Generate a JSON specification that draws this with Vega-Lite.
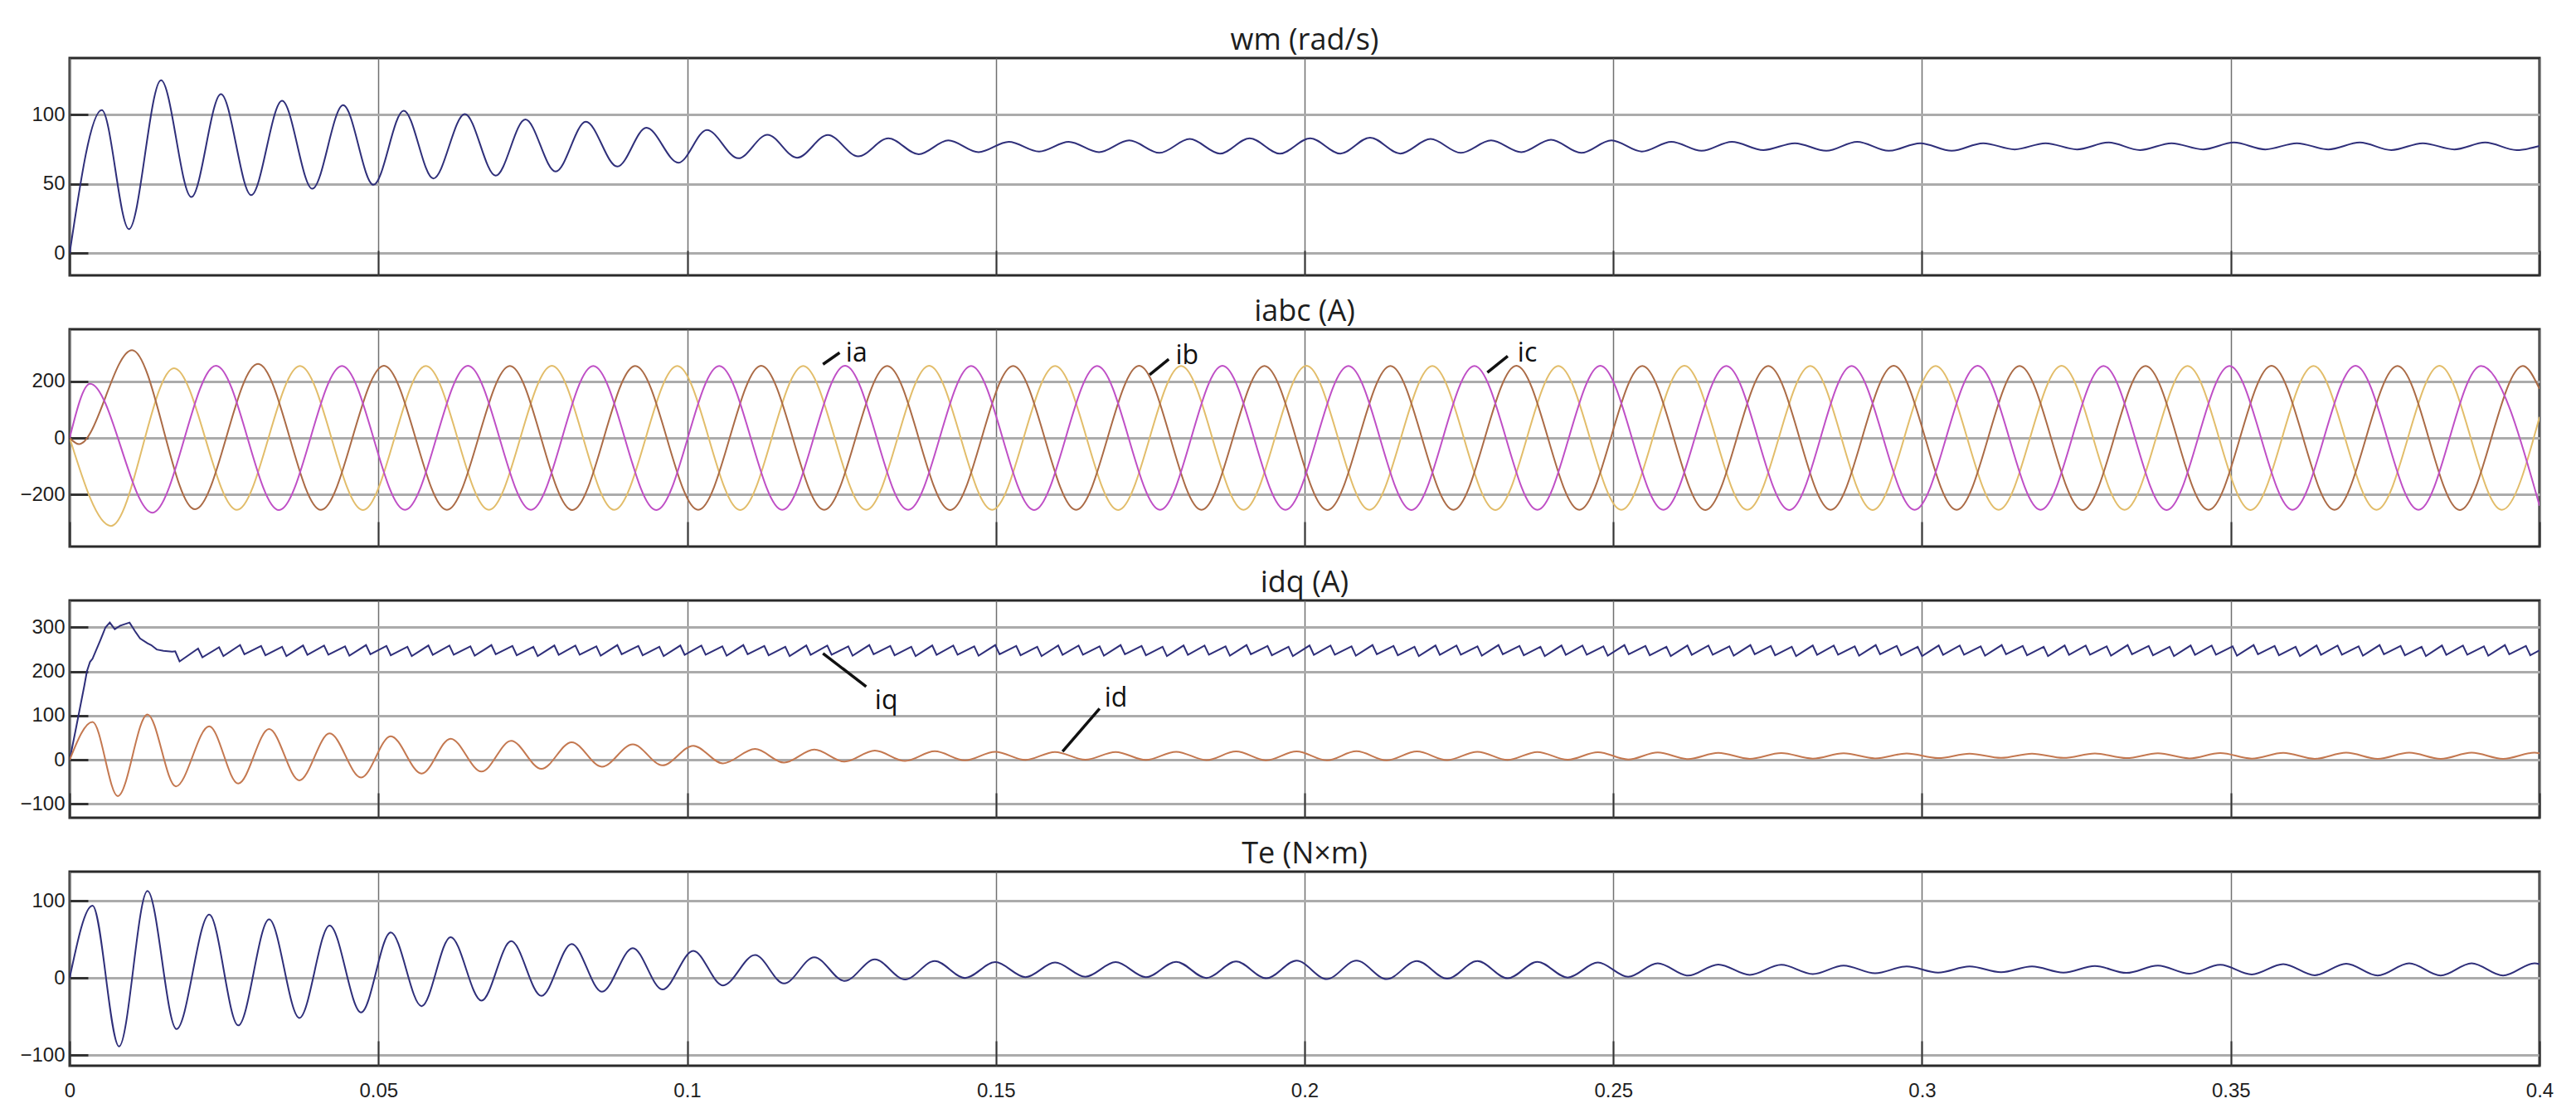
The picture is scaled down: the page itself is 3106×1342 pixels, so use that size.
{
  "$schema": "https://vega.github.io/schema/vega-lite/v6.json",
  "background": "white",
  "padding": {"left": 22, "top": 29, "right": 26, "bottom": 8},
  "spacing": 21,
  "config": {
    "view": {"stroke": "#2a2a2a", "strokeWidth": 3},
    "title": {"font": "Open Sans", "fontSize": 36, "fontWeight": "normal", "color": "#1e1e1e", "offset": 2, "anchor": "middle"},
    "axis": {"domain": false, "labelFont": "Liberation Sans", "labelFontSize": 24, "labelColor": "#1e1e1e", "tickColor": "#333333"},
    "axisX": {"gridColor": "#707070", "gridWidth": 1.5, "tickSize": -30, "tickWidth": 2, "labelPadding": 48, "labelFlush": false},
    "axisY": {"gridColor": "#ababab", "gridWidth": 3, "tickSize": -22, "tickWidth": 3, "labelPadding": 28}
  },
  "datasets": {
    "wm": [
      {"t":0,"v":0},{"t":0.0052,"v":103.4},{"t":0.0096,"v":17.4},{"t":0.0148,"v":125},{"t":0.0197,"v":40.6},{"t":0.0245,"v":115},{"t":0.0294,"v":42},{"t":0.0344,"v":110.2},{"t":0.0393,"v":46.6},{"t":0.0443,"v":107},{"t":0.0492,"v":49.4},{"t":0.0541,"v":103},{"t":0.0589,"v":54},{"t":0.064,"v":100.6},{"t":0.069,"v":56},{"t":0.0738,"v":96.6},{"t":0.0787,"v":59},{"t":0.0836,"v":95},{"t":0.0887,"v":62.6},{"t":0.0934,"v":90.6},{"t":0.0986,"v":65.4},{"t":0.1032,"v":89},{"t":0.1083,"v":68.6},{"t":0.113,"v":85.6},{"t":0.1178,"v":69},{"t":0.1228,"v":85.4},{"t":0.1277,"v":70},
      {"t":0.1326,"v":83},{"t":0.1375,"v":71.5},{"t":0.1423,"v":81.5},{"t":0.1472,"v":73},{"t":0.1521,"v":80.5},{"t":0.157,"v":73.5},{"t":0.1618,"v":80.5},{"t":0.1667,"v":73},{"t":0.1716,"v":81.5},{"t":0.1765,"v":72.5},{"t":0.1814,"v":82.5},{"t":0.1863,"v":72},{"t":0.1911,"v":83},{"t":0.196,"v":72},{"t":0.2009,"v":83},{"t":0.2058,"v":72},{"t":0.2106,"v":83.5},{"t":0.2155,"v":72},{"t":0.2204,"v":82.5},{"t":0.2253,"v":72.5},{"t":0.2302,"v":81.5},{"t":0.2351,"v":73},{"t":0.2399,"v":82},{"t":0.2448,"v":72.5},{"t":0.2497,"v":81.5},{"t":0.2546,"v":73.5},{"t":0.2594,"v":80.5},{"t":0.2643,"v":74},{"t":0.2692,"v":80.5},{"t":0.2743,"v":74.5},{"t":0.2794,"v":79.5},{"t":0.2845,"v":74},{"t":0.2895,"v":80.5},{"t":0.2946,"v":74},{"t":0.2997,"v":79.5},{"t":0.3048,"v":74},{"t":0.3099,"v":79.5},{"t":0.315,"v":75},{"t":0.32,"v":79.5},{"t":0.3251,"v":75},{"t":0.3302,"v":80},{"t":0.3353,"v":74.5},{"t":0.3404,"v":79.5},{"t":0.3455,"v":75},{"t":0.3505,"v":80},{"t":0.3556,"v":75},{"t":0.3607,"v":79.5},{"t":0.3658,"v":75},{"t":0.3709,"v":80},{"t":0.376,"v":74.5},{"t":0.3811,"v":79.5},{"t":0.3862,"v":75},{"t":0.3912,"v":80},{"t":0.3963,"v":74.5},{"t":0.4,"v":77.5}
    ],
    "iabc": [
      {"s":"ia","t":0,"v":0},{"s":"ia","t":0.0067,"v":-312},{"s":"ia","t":0.0169,"v":247},{"s":"ia","t":0.0271,"v":-255},{"s":"ia","t":0.0373,"v":255},{"s":"ia","t":0.0475,"v":-256},{"s":"ia","t":0.0577,"v":255},{"s":"ia","t":0.0679,"v":-255},{"s":"ia","t":0.0781,"v":256},{"s":"ia","t":0.0882,"v":-255},{"s":"ia","t":0.0984,"v":255},{"s":"ia","t":0.1086,"v":-256},{"s":"ia","t":0.1188,"v":255},{"s":"ia","t":0.129,"v":-255},{"s":"ia","t":0.1392,"v":256},{"s":"ia","t":0.1494,"v":-255},{"s":"ia","t":0.1596,"v":255},{"s":"ia","t":0.1698,"v":-256},{"s":"ia","t":0.18,"v":255},{"s":"ia","t":0.1901,"v":-255},{"s":"ia","t":0.2003,"v":256},{"s":"ia","t":0.2105,"v":-255},{"s":"ia","t":0.2207,"v":255},{"s":"ia","t":0.2309,"v":-256},{"s":"ia","t":0.2411,"v":255},{"s":"ia","t":0.2513,"v":-255},{"s":"ia","t":0.2615,"v":256},{"s":"ia","t":0.2717,"v":-255},{"s":"ia","t":0.2819,"v":255},{"s":"ia","t":0.292,"v":-256},{"s":"ia","t":0.3022,"v":255},{"s":"ia","t":0.3124,"v":-255},{"s":"ia","t":0.3226,"v":256},{"s":"ia","t":0.3328,"v":-255},{"s":"ia","t":0.343,"v":255},{"s":"ia","t":0.3532,"v":-256},{"s":"ia","t":0.3634,"v":255},{"s":"ia","t":0.3736,"v":-255},{"s":"ia","t":0.3838,"v":256},{"s":"ia","t":0.3939,"v":-255},{"s":"ia","t":0.4,"v":74},
      {"s":"ib","t":0,"v":0},{"s":"ib","t":0.0015,"v":-22},{"s":"ib","t":0.0101,"v":311},{"s":"ib","t":0.0203,"v":-253},{"s":"ib","t":0.0305,"v":262},{"s":"ib","t":0.0407,"v":-255},{"s":"ib","t":0.0509,"v":256},{"s":"ib","t":0.0611,"v":-255},{"s":"ib","t":0.0713,"v":255},{"s":"ib","t":0.0814,"v":-256},{"s":"ib","t":0.0916,"v":255},{"s":"ib","t":0.1018,"v":-255},{"s":"ib","t":0.112,"v":256},{"s":"ib","t":0.1222,"v":-255},{"s":"ib","t":0.1324,"v":255},{"s":"ib","t":0.1426,"v":-256},{"s":"ib","t":0.1528,"v":255},{"s":"ib","t":0.163,"v":-255},{"s":"ib","t":0.1732,"v":256},{"s":"ib","t":0.1833,"v":-255},{"s":"ib","t":0.1935,"v":255},{"s":"ib","t":0.2037,"v":-256},{"s":"ib","t":0.2139,"v":255},{"s":"ib","t":0.2241,"v":-255},{"s":"ib","t":0.2343,"v":256},{"s":"ib","t":0.2445,"v":-255},{"s":"ib","t":0.2547,"v":255},{"s":"ib","t":0.2649,"v":-256},{"s":"ib","t":0.2751,"v":255},{"s":"ib","t":0.2852,"v":-255},{"s":"ib","t":0.2954,"v":256},{"s":"ib","t":0.3056,"v":-255},{"s":"ib","t":0.3158,"v":255},{"s":"ib","t":0.326,"v":-256},{"s":"ib","t":0.3362,"v":255},{"s":"ib","t":0.3464,"v":-255},{"s":"ib","t":0.3566,"v":256},{"s":"ib","t":0.3668,"v":-255},{"s":"ib","t":0.377,"v":255},{"s":"ib","t":0.3871,"v":-256},{"s":"ib","t":0.3973,"v":255},{"s":"ib","t":0.4,"v":174},
      {"s":"ic","t":0,"v":0},{"s":"ic","t":0.0033,"v":192},{"s":"ic","t":0.0134,"v":-265},{"s":"ic","t":0.0237,"v":256},{"s":"ic","t":0.0339,"v":-256},{"s":"ic","t":0.0441,"v":255},{"s":"ic","t":0.0543,"v":-255},{"s":"ic","t":0.0645,"v":256},{"s":"ic","t":0.0747,"v":-255},{"s":"ic","t":0.0848,"v":255},{"s":"ic","t":0.095,"v":-256},{"s":"ic","t":0.1052,"v":255},{"s":"ic","t":0.1154,"v":-255},{"s":"ic","t":0.1256,"v":256},{"s":"ic","t":0.1358,"v":-255},{"s":"ic","t":0.146,"v":255},{"s":"ic","t":0.1562,"v":-256},{"s":"ic","t":0.1664,"v":255},{"s":"ic","t":0.1766,"v":-255},{"s":"ic","t":0.1867,"v":256},{"s":"ic","t":0.1969,"v":-255},{"s":"ic","t":0.2071,"v":255},{"s":"ic","t":0.2173,"v":-256},{"s":"ic","t":0.2275,"v":255},{"s":"ic","t":0.2377,"v":-255},{"s":"ic","t":0.2479,"v":256},{"s":"ic","t":0.2581,"v":-255},{"s":"ic","t":0.2683,"v":255},{"s":"ic","t":0.2785,"v":-256},{"s":"ic","t":0.2886,"v":255},{"s":"ic","t":0.2988,"v":-255},{"s":"ic","t":0.309,"v":256},{"s":"ic","t":0.3192,"v":-255},{"s":"ic","t":0.3294,"v":255},{"s":"ic","t":0.3396,"v":-256},{"s":"ic","t":0.3498,"v":255},{"s":"ic","t":0.36,"v":-255},{"s":"ic","t":0.3702,"v":256},{"s":"ic","t":0.3804,"v":-255},{"s":"ic","t":0.3905,"v":255},{"s":"ic","t":0.4,"v":-240}
    ],
    "iq": [
      {"t":0,"v":0},{"t":0.0011,"v":77},{"t":0.0024,"v":170},{"t":0.0028,"v":201},{"t":0.0033,"v":222},{"t":0.0037,"v":229},{"t":0.005,"v":272},{"t":0.0058,"v":300},{"t":0.0065,"v":311},{"t":0.0073,"v":296},{"t":0.0082,"v":304},{"t":0.0097,"v":311},{"t":0.0106,"v":291},{"t":0.0114,"v":275},{"t":0.0126,"v":264},{"t":0.0132,"v":260},{"t":0.0141,"v":250},{"t":0.0152,"v":247},{"t":0.0166,"v":245},{"t":0.0171,"v":246},{"t":0.0178,"v":223},
      {"t":0.0208,"v":252},{"t":0.0215,"v":232},{"t":0.0242,"v":255},{"t":0.0249,"v":235},{"t":0.0276,"v":260},{"t":0.0283,"v":239},{"t":0.031,"v":258},{"t":0.0317,"v":237},{"t":0.0344,"v":256},{"t":0.0351,"v":235},{"t":0.0378,"v":259},{"t":0.0385,"v":238},
      {"t":0.0412,"v":259},{"t":0.0419,"v":238},{"t":0.0446,"v":257},{"t":0.0453,"v":236},{"t":0.048,"v":260},{"t":0.0487,"v":239},{"t":0.0513,"v":258},{"t":0.052,"v":237},{"t":0.0547,"v":256},{"t":0.0554,"v":235},{"t":0.0581,"v":259},{"t":0.0588,"v":238},
      {"t":0.0615,"v":259},{"t":0.0622,"v":238},{"t":0.0649,"v":257},{"t":0.0656,"v":236},{"t":0.0683,"v":260},{"t":0.069,"v":239},{"t":0.0717,"v":258},{"t":0.0724,"v":237},{"t":0.0751,"v":256},{"t":0.0758,"v":235},{"t":0.0785,"v":259},{"t":0.0792,"v":238},
      {"t":0.0819,"v":259},{"t":0.0826,"v":238},{"t":0.0853,"v":257},{"t":0.086,"v":236},{"t":0.0887,"v":260},{"t":0.0894,"v":239},{"t":0.0921,"v":258},{"t":0.0928,"v":237},{"t":0.0955,"v":256},{"t":0.0962,"v":235},{"t":0.0989,"v":259},{"t":0.0996,"v":238},
      {"t":0.1023,"v":259},{"t":0.103,"v":238},{"t":0.1057,"v":257},{"t":0.1064,"v":236},{"t":0.1091,"v":260},{"t":0.1098,"v":239},{"t":0.1125,"v":258},{"t":0.1132,"v":237},{"t":0.1159,"v":256},{"t":0.1166,"v":235},{"t":0.1193,"v":259},{"t":0.12,"v":238},
      {"t":0.1227,"v":259},{"t":0.1234,"v":238},{"t":0.1261,"v":257},{"t":0.1268,"v":236},{"t":0.1295,"v":260},{"t":0.1302,"v":239},{"t":0.1329,"v":258},{"t":0.1336,"v":237},{"t":0.1363,"v":256},{"t":0.137,"v":235},{"t":0.1397,"v":259},{"t":0.1404,"v":238},
      {"t":0.1431,"v":259},{"t":0.1438,"v":238},{"t":0.1465,"v":257},{"t":0.1472,"v":236},{"t":0.1499,"v":260},{"t":0.1506,"v":239},{"t":0.1533,"v":258},{"t":0.154,"v":237},{"t":0.1567,"v":256},{"t":0.1574,"v":235},{"t":0.1601,"v":259},{"t":0.1608,"v":238},
      {"t":0.1634,"v":259},{"t":0.1641,"v":238},{"t":0.1668,"v":257},{"t":0.1675,"v":236},{"t":0.1702,"v":260},{"t":0.1709,"v":239},{"t":0.1736,"v":258},{"t":0.1743,"v":237},{"t":0.177,"v":256},{"t":0.1777,"v":235},{"t":0.1804,"v":259},{"t":0.1811,"v":238},
      {"t":0.1838,"v":259},{"t":0.1845,"v":238},{"t":0.1872,"v":257},{"t":0.1879,"v":236},{"t":0.1906,"v":260},{"t":0.1913,"v":239},{"t":0.194,"v":258},{"t":0.1947,"v":237},{"t":0.1974,"v":256},{"t":0.1981,"v":235},{"t":0.2008,"v":259},{"t":0.2015,"v":238},
      {"t":0.2042,"v":259},{"t":0.2049,"v":238},{"t":0.2076,"v":257},{"t":0.2083,"v":236},{"t":0.211,"v":260},{"t":0.2117,"v":239},{"t":0.2144,"v":258},{"t":0.2151,"v":237},{"t":0.2178,"v":256},{"t":0.2185,"v":235},{"t":0.2212,"v":259},{"t":0.2219,"v":238},
      {"t":0.2246,"v":259},{"t":0.2253,"v":238},{"t":0.228,"v":257},{"t":0.2287,"v":236},{"t":0.2314,"v":260},{"t":0.2321,"v":239},{"t":0.2348,"v":258},{"t":0.2355,"v":237},{"t":0.2382,"v":256},{"t":0.2389,"v":235},{"t":0.2416,"v":259},{"t":0.2423,"v":238},
      {"t":0.245,"v":259},{"t":0.2457,"v":238},{"t":0.2484,"v":257},{"t":0.2491,"v":236},{"t":0.2518,"v":260},{"t":0.2525,"v":239},{"t":0.2552,"v":258},{"t":0.2559,"v":237},{"t":0.2586,"v":256},{"t":0.2593,"v":235},{"t":0.262,"v":259},{"t":0.2627,"v":238},
      {"t":0.2654,"v":259},{"t":0.2661,"v":238},{"t":0.2688,"v":257},{"t":0.2695,"v":236},{"t":0.2722,"v":260},{"t":0.2729,"v":239},{"t":0.2755,"v":258},{"t":0.2762,"v":237},{"t":0.2789,"v":256},{"t":0.2796,"v":235},{"t":0.2823,"v":259},{"t":0.283,"v":238},
      {"t":0.2857,"v":259},{"t":0.2864,"v":238},{"t":0.2891,"v":257},{"t":0.2898,"v":236},{"t":0.2925,"v":260},{"t":0.2932,"v":239},{"t":0.2959,"v":258},{"t":0.2966,"v":237},{"t":0.2993,"v":256},{"t":0.3,"v":235},{"t":0.3027,"v":259},{"t":0.3034,"v":238},
      {"t":0.3061,"v":259},{"t":0.3068,"v":238},{"t":0.3095,"v":257},{"t":0.3102,"v":236},{"t":0.3129,"v":260},{"t":0.3136,"v":239},{"t":0.3163,"v":258},{"t":0.317,"v":237},{"t":0.3197,"v":256},{"t":0.3204,"v":235},{"t":0.3231,"v":259},{"t":0.3238,"v":238},
      {"t":0.3265,"v":259},{"t":0.3272,"v":238},{"t":0.3299,"v":257},{"t":0.3306,"v":236},{"t":0.3333,"v":260},{"t":0.334,"v":239},{"t":0.3367,"v":258},{"t":0.3374,"v":237},{"t":0.3401,"v":256},{"t":0.3408,"v":235},{"t":0.3435,"v":259},{"t":0.3442,"v":238},
      {"t":0.3469,"v":259},{"t":0.3476,"v":238},{"t":0.3503,"v":257},{"t":0.351,"v":236},{"t":0.3537,"v":260},{"t":0.3544,"v":239},{"t":0.3571,"v":258},{"t":0.3578,"v":237},{"t":0.3605,"v":256},{"t":0.3612,"v":235},{"t":0.3639,"v":259},{"t":0.3646,"v":238},
      {"t":0.3673,"v":259},{"t":0.368,"v":238},{"t":0.3707,"v":257},{"t":0.3714,"v":236},{"t":0.3741,"v":260},{"t":0.3748,"v":239},{"t":0.3775,"v":258},{"t":0.3782,"v":237},{"t":0.3809,"v":256},{"t":0.3816,"v":235},{"t":0.3842,"v":259},{"t":0.3849,"v":238},
      {"t":0.3876,"v":259},{"t":0.3883,"v":238},{"t":0.391,"v":257},{"t":0.3917,"v":236},{"t":0.3944,"v":260},{"t":0.3951,"v":239},{"t":0.3978,"v":258},{"t":0.3985,"v":237},{"t":0.4,"v":248}
    ],
    "id": [
      {"t":0,"v":0},{"t":0.0037,"v":85.8},{"t":0.0078,"v":-82},{"t":0.0126,"v":103},{"t":0.0172,"v":-60},{"t":0.0226,"v":76},{"t":0.0273,"v":-53.7},{"t":0.0323,"v":69.8},{"t":0.0372,"v":-46.3},{"t":0.0421,"v":59.9},{"t":0.0472,"v":-40},{"t":0.052,"v":53.7},{"t":0.057,"v":-30.9},{"t":0.0617,"v":48.1},{"t":0.0667,"v":-26.5},{"t":0.0715,"v":43.2},{"t":0.0764,"v":-20.4},{"t":0.0813,"v":40.1},{"t":0.0862,"v":-15.4},{"t":0.0912,"v":35.2},{"t":0.096,"v":-12.3},{"t":0.101,"v":32.1},{"t":0.1058,"v":-8},{"t":0.111,"v":24.7},{"t":0.1157,"v":-6.2},{"t":0.1206,"v":23.5},{"t":0.1255,"v":-4},
      {"t":0.1304,"v":21},{"t":0.1353,"v":-2.5},{"t":0.1401,"v":19.5},{"t":0.145,"v":-1},{"t":0.1499,"v":18.5},{"t":0.1548,"v":0},{"t":0.1596,"v":18},{"t":0.1645,"v":0.5},{"t":0.1694,"v":18},{"t":0.1743,"v":0},{"t":0.1792,"v":18.5},{"t":0.1841,"v":-0.5},{"t":0.1889,"v":19},{"t":0.1938,"v":-1},{"t":0.1987,"v":19},{"t":0.2036,"v":-1},{"t":0.2084,"v":19.5},{"t":0.2133,"v":-1},{"t":0.2182,"v":19},{"t":0.2231,"v":-0.5},{"t":0.228,"v":18.5},{"t":0.2329,"v":0},{"t":0.2377,"v":18},{"t":0.2426,"v":0.5},{"t":0.2475,"v":17.5},{"t":0.2524,"v":1},{"t":0.2572,"v":17},{"t":0.2621,"v":2},{"t":0.267,"v":16},{"t":0.2721,"v":2.5},{"t":0.2772,"v":15.5},{"t":0.2823,"v":3},{"t":0.2873,"v":15},{"t":0.2924,"v":3.5},{"t":0.2975,"v":14.5},{"t":0.3026,"v":4},{"t":0.3077,"v":14},{"t":0.3128,"v":4.5},{"t":0.3178,"v":14},{"t":0.3229,"v":4.5},{"t":0.328,"v":14.5},{"t":0.3331,"v":4},{"t":0.3382,"v":15},{"t":0.3433,"v":3.5},{"t":0.3483,"v":15.5},{"t":0.3534,"v":3},{"t":0.3585,"v":16},{"t":0.3636,"v":2.5},{"t":0.3687,"v":16.5},{"t":0.3738,"v":2.5},{"t":0.3789,"v":16.5},{"t":0.384,"v":2.5},{"t":0.389,"v":16.5},{"t":0.3941,"v":2.5},{"t":0.3992,"v":16.5},{"t":0.4,"v":15}
    ],
    "te": [
      {"t":0,"v":0},{"t":0.0037,"v":93.9},{"t":0.008,"v":-88.9},{"t":0.0126,"v":112.9},{"t":0.0173,"v":-66.3},{"t":0.0226,"v":82.4},{"t":0.0273,"v":-61.6},{"t":0.0323,"v":76},{"t":0.0372,"v":-52},{"t":0.0421,"v":68.1},{"t":0.0472,"v":-44.8},{"t":0.052,"v":59.1},{"t":0.057,"v":-36.6},{"t":0.0617,"v":53},{"t":0.0667,"v":-29.4},{"t":0.0715,"v":47.7},{"t":0.0764,"v":-23.3},{"t":0.0813,"v":44.1},{"t":0.0862,"v":-17.9},{"t":0.0912,"v":38.7},{"t":0.096,"v":-15},{"t":0.101,"v":35.1},{"t":0.1058,"v":-9.7},{"t":0.111,"v":29.7},{"t":0.1157,"v":-7.2},{"t":0.1206,"v":26.9},{"t":0.1255,"v":-4},
      {"t":0.1304,"v":24},{"t":0.1353,"v":-2},{"t":0.1401,"v":22},{"t":0.145,"v":0},{"t":0.1499,"v":20.5},{"t":0.1548,"v":1},{"t":0.1596,"v":20},{"t":0.1645,"v":1.5},{"t":0.1694,"v":20.5},{"t":0.1743,"v":1},{"t":0.1792,"v":21},{"t":0.1841,"v":0},{"t":0.1889,"v":21.5},{"t":0.1938,"v":-0.5},{"t":0.1987,"v":22.5},{"t":0.2036,"v":-1.5},{"t":0.2084,"v":22.5},{"t":0.2133,"v":-1.5},{"t":0.2182,"v":22},{"t":0.2231,"v":-1},{"t":0.228,"v":22},{"t":0.2329,"v":-0.5},{"t":0.2377,"v":21},{"t":0.2426,"v":0.5},{"t":0.2475,"v":20},{"t":0.2524,"v":1.5},{"t":0.2572,"v":19},{"t":0.2621,"v":3},{"t":0.267,"v":17.5},{"t":0.2721,"v":4},{"t":0.2772,"v":17},{"t":0.2823,"v":5},{"t":0.2873,"v":16},{"t":0.2924,"v":6},{"t":0.2975,"v":15},{"t":0.3026,"v":7},{"t":0.3077,"v":15},{"t":0.3128,"v":7.5},{"t":0.3178,"v":15},{"t":0.3229,"v":7},{"t":0.328,"v":15.5},{"t":0.3331,"v":6.5},{"t":0.3382,"v":16},{"t":0.3433,"v":5.5},{"t":0.3483,"v":17},{"t":0.3534,"v":4.5},{"t":0.3585,"v":18},{"t":0.3636,"v":3.5},{"t":0.3687,"v":18.5},{"t":0.3738,"v":3},{"t":0.3789,"v":19},{"t":0.384,"v":3},{"t":0.389,"v":19},{"t":0.3941,"v":3},{"t":0.3992,"v":19},{"t":0.4,"v":18}
    ],
    "notes_iabc": [
      {"t":0.122,"v":261,"t2":0.1247,"v2":302,"tx":0.1257,"vx":300,"label":"ia"},
      {"t":0.1749,"v":224,"t2":0.178,"v2":279,"tx":0.1791,"vx":290,"label":"ib"},
      {"t":0.2296,"v":232,"t2":0.2329,"v2":290,"tx":0.2345,"vx":300,"label":"ic"}
    ],
    "notes_idq": [
      {"t":0.122,"v":241,"t2":0.129,"v2":166,"tx":0.1304,"vx":133,"label":"iq"},
      {"t":0.1608,"v":19,"t2":0.1668,"v2":116,"tx":0.1676,"vx":140,"label":"id"}
    ]
  },
  "vconcat": [
    {
      "title": "wm (rad/s)",
      "width": 2978,
      "height": 262,
      "data": {"name": "wm"},
      "mark": {"type": "line", "interpolate": "monotone", "color": "#2f2f7a", "strokeWidth": 2, "clip": true},
      "encoding": {
        "x": {"field": "t", "type": "quantitative", "title": null, "scale": {"domain": [0, 0.4], "nice": false}, "axis": {"values": [0, 0.05, 0.1, 0.15, 0.2, 0.25, 0.3, 0.35, 0.4], "labels": false}},
        "y": {"field": "v", "type": "quantitative", "title": null, "scale": {"domain": [-16, 141], "nice": false, "zero": false}, "axis": {"values": [0, 50, 100]}}
      }
    },
    {
      "title": "iabc (A)",
      "width": 2978,
      "height": 262,
      "layer": [
        {
          "data": {"name": "iabc"},
          "mark": {"type": "line", "interpolate": "monotone", "strokeWidth": 2, "clip": true},
          "encoding": {
            "x": {"field": "t", "type": "quantitative", "title": null, "scale": {"domain": [0, 0.4], "nice": false}, "axis": {"values": [0, 0.05, 0.1, 0.15, 0.2, 0.25, 0.3, 0.35, 0.4], "labels": false}},
            "y": {"field": "v", "type": "quantitative", "title": null, "scale": {"domain": [-385, 385], "nice": false, "zero": false}, "axis": {"values": [-200, 0, 200]}},
            "color": {"field": "s", "type": "nominal", "scale": {"domain": ["ia", "ib", "ic"], "range": ["#e2bd6a", "#ab6b46", "#bf4fc6"]}, "legend": null}
          }
        },
        {
          "data": {"name": "notes_iabc"},
          "mark": {"type": "rule", "color": "#111111", "strokeWidth": 3.5},
          "encoding": {
            "x": {"field": "t", "type": "quantitative", "title": null},
            "y": {"field": "v", "type": "quantitative", "title": null},
            "x2": {"field": "t2"},
            "y2": {"field": "v2"}
          }
        },
        {
          "data": {"name": "notes_iabc"},
          "mark": {"type": "text", "align": "left", "baseline": "middle", "font": "Open Sans", "fontSize": 32, "color": "#111111"},
          "encoding": {
            "x": {"field": "tx", "type": "quantitative", "title": null},
            "y": {"field": "vx", "type": "quantitative", "title": null},
            "text": {"field": "label"}
          }
        }
      ]
    },
    {
      "title": "idq (A)",
      "width": 2978,
      "height": 262,
      "layer": [
        {
          "data": {"name": "iq"},
          "mark": {"type": "line", "color": "#2f2f7a", "strokeWidth": 2, "clip": true},
          "encoding": {
            "x": {"field": "t", "type": "quantitative", "title": null, "scale": {"domain": [0, 0.4], "nice": false}, "axis": {"values": [0, 0.05, 0.1, 0.15, 0.2, 0.25, 0.3, 0.35, 0.4], "labels": false}},
            "y": {"field": "v", "type": "quantitative", "title": null, "scale": {"domain": [-131, 361], "nice": false, "zero": false}, "axis": {"values": [-100, 0, 100, 200, 300]}}
          }
        },
        {
          "data": {"name": "id"},
          "mark": {"type": "line", "interpolate": "monotone", "color": "#c47850", "strokeWidth": 2, "clip": true},
          "encoding": {
            "x": {"field": "t", "type": "quantitative", "title": null},
            "y": {"field": "v", "type": "quantitative", "title": null}
          }
        },
        {
          "data": {"name": "notes_idq"},
          "mark": {"type": "rule", "color": "#111111", "strokeWidth": 3.5},
          "encoding": {
            "x": {"field": "t", "type": "quantitative", "title": null},
            "y": {"field": "v", "type": "quantitative", "title": null},
            "x2": {"field": "t2"},
            "y2": {"field": "v2"}
          }
        },
        {
          "data": {"name": "notes_idq"},
          "mark": {"type": "text", "align": "left", "baseline": "middle", "font": "Open Sans", "fontSize": 32, "color": "#111111"},
          "encoding": {
            "x": {"field": "tx", "type": "quantitative", "title": null},
            "y": {"field": "vx", "type": "quantitative", "title": null},
            "text": {"field": "label"}
          }
        }
      ]
    },
    {
      "title": "Te (N×m)",
      "width": 2978,
      "height": 234,
      "data": {"name": "te"},
      "mark": {"type": "line", "interpolate": "monotone", "color": "#2f2f7a", "strokeWidth": 2, "clip": true},
      "encoding": {
        "x": {"field": "t", "type": "quantitative", "title": null, "scale": {"domain": [0, 0.4], "nice": false}, "axis": {"values": [0, 0.05, 0.1, 0.15, 0.2, 0.25, 0.3, 0.35, 0.4], "format": "~g"}},
        "y": {"field": "v", "type": "quantitative", "title": null, "scale": {"domain": [-114, 138], "nice": false, "zero": false}, "axis": {"values": [-100, 0, 100]}}
      }
    }
  ]
}
